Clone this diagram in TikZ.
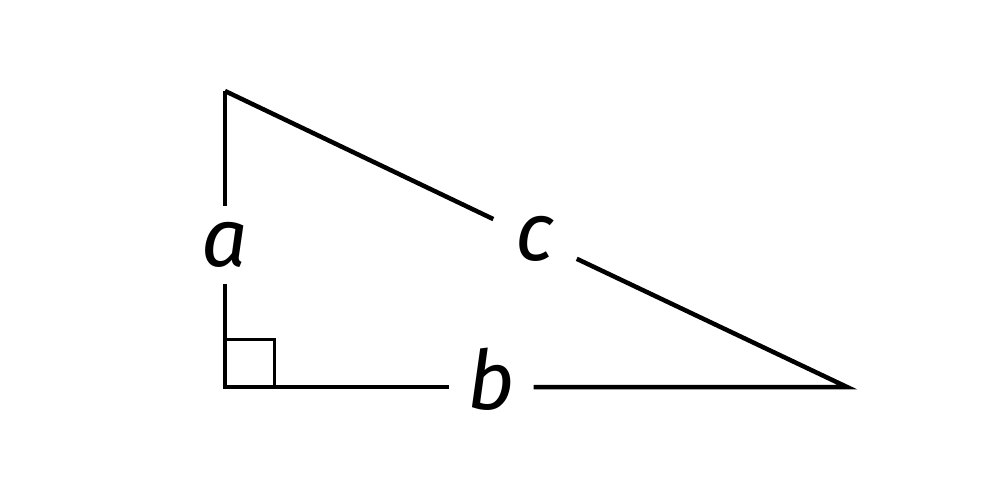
\documentclass[tikz,border=0pt]{standalone}
\usepackage{fontspec}
\setmainfont{Fira Sans}
\begin{document}
\begin{tikzpicture}[x=1pt,y=-1pt,
  side/.style={line width=4.5pt,line join=miter},
  sq/.style={line width=3pt},
  lbl/.style={circle,inner sep=0pt,font=\fontsize{82}{90}\selectfont\itshape}]
\useasboundingbox (0,0) rectangle (1000,500);
\coordinate (A) at (225,91);
\coordinate (C) at (225,387);
\coordinate (B) at (847,387);
\node[lbl,minimum size=77pt] (la) at (225,245) {a};
\node[lbl,minimum size=84pt] (lb) at (491.5,387) {\smash{\raisebox{-22pt}{b}}};
\node[lbl,minimum size=92pt] (lc) at (535,239) {c};
\draw[side] (A) -- (la);
\draw[side] (la) -- (C) -- (lb);
\draw[side] (lb) -- (B) -- (lc);
\draw[side] (lc) -- (A);
\coordinate (S1) at (225,339);
\coordinate (S2) at (274,339);
\coordinate (S3) at (274,387);
\draw[sq] (S1) -- (S2) -- (S3);
\end{tikzpicture}
\end{document}
